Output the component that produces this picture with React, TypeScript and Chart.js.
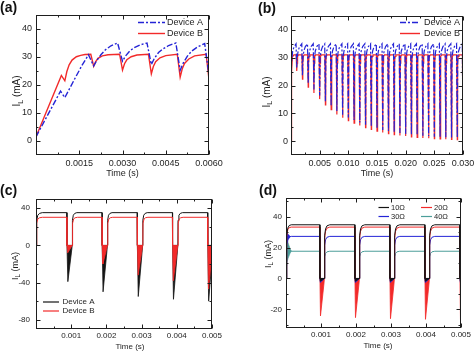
import React, { useEffect, useRef } from "react";
import { Chart, registerables } from "chart.js";

Chart.register(...registerables);

const W = 474;
const H = 352;
const FONT = "'Liberation Sans', Arial, Helvetica, sans-serif";
const INK = "#1e1e1e";
const BLUE = "#2424d6";
const RED = "#f22a2a";
const BLACK = "#141414";
const TEAL = "#4c9e9a";

// ---------------- Panel (a) : time in ms ----------------
const aTimeA = [0, 0.85, 1.0, 1.2, 1.4, 1.6, 1.82, 2.0, 2.1, 2.25, 2.4, 2.6, 2.83, 3.0, 3.1, 3.25, 3.4, 3.6, 3.85, 4.0, 4.1, 4.25, 4.4, 4.6, 4.85, 5.0, 5.1, 5.25, 5.4, 5.6, 5.85, 6.0];
const aDevA = [1.5, 17.8, 15.5, 19.4, 23.3, 27.1, 30.8, 26.8, 28.6, 30.8, 32.5, 34.0, 35.0, 28.5, 30.3, 32.1, 33.3, 34.3, 35.0, 27.3, 29.4, 31.6, 32.9, 34.1, 35.0, 25.3, 27.7, 30.3, 32.1, 33.6, 34.8, 23.5];
const aTimeB = [0, 0.88, 1.0, 1.07, 1.15, 1.25, 1.4, 1.55, 1.7, 1.9, 2.0, 2.07, 2.15, 2.3, 2.5, 2.9, 3.0, 3.07, 3.15, 3.3, 3.5, 3.9, 4.0, 4.07, 4.15, 4.3, 4.5, 4.9, 5.0, 5.07, 5.15, 5.3, 5.5, 5.9, 6.0];
const aDevB = [1.5, 23.4, 21.5, 24.8, 27.2, 28.9, 30.1, 30.6, 30.9, 31.0, 26.7, 28.4, 29.5, 30.4, 30.8, 31.0, 25.3, 27.6, 29.0, 30.1, 30.7, 31.0, 24.0, 26.6, 28.3, 29.7, 30.5, 31.0, 22.8, 25.7, 27.7, 29.3, 30.4, 31.0, 22.0];
const aXTicks = [0.75, 1.5, 2.25, 3, 3.75, 4.5, 5.25, 6];
const aXLabels = ["", "0.0015", "", "0.0030", "", "0.0045", "", "0.0060"];
const abYTicks = [0, 5, 10, 15, 20, 25, 30, 35, 40];
const abYLabels = ["0", "", "10", "", "20", "", "30", "", "40"];

// ---------------- Panel (b) : time in ms ----------------
const bPulses = [1, 2, 3, 4, 5, 6, 7, 8, 9, 10, 11, 12, 13, 14, 15, 16, 17, 18, 19, 20, 21, 22, 23, 24, 25, 26, 27, 28, 29, 30];
const bMinA = [26.5, 23.6, 20.7, 18.6, 16.4, 14.3, 12.5, 10.8, 9.5, 8.5, 7.6, 6.7, 5.9, 5.2, 4.6, 4.0, 3.6, 3.2, 2.9, 2.6, 2.3, 2.1, 1.9, 1.8, 1.6, 1.5, 1.4, 1.3, 1.2, 1.2];
const bMinB = [25.2, 22.3, 19.4, 17.3, 15.1, 13.0, 11.3, 9.6, 8.4, 7.4, 6.5, 5.6, 4.8, 4.2, 3.6, 3.1, 2.7, 2.3, 2.0, 1.8, 1.5, 1.3, 1.1, 1.0, 0.9, 0.8, 0.7, 0.6, 0.5, 0.5];
const bStartTimeA = [0, 0.08, 0.3, 0.55, 0.88];
const bStartA = [0, 28, 32.5, 34, 35];
const bStartTimeB = [0, 0.1, 0.25, 0.5, 0.9];
const bStartB = [0, 25, 30.3, 31, 31];
const bRecoverOffA = [0.08, 0.25, 0.5, 0.88];
const bRecoverA = [30, 32.5, 34, 35];
const bRecoverOffB = [0.06, 0.15, 0.3, 0.9];
const bRecoverB = [28, 30.5, 31, 31];
const bXTicks = [2.5, 5, 7.5, 10, 12.5, 15, 17.5, 20, 22.5, 25, 27.5, 30];
const bXLabels = ["", "0.005", "", "0.010", "", "0.015", "", "0.020", "", "0.025", "", "0.030"];

// ---------------- Panel (c) : time in ms ----------------
const cDips = [1, 2, 3, 4, 5];
const cStartTime = [0, 0.02, 0.05, 0.1, 0.18];
const cStartA = [0, 27, 32.5, 34.5, 35.3];
const cStartB = [0, 24, 28.5, 29.8, 30.3];
const cLineOffA = [-0.125, -0.12, 0.03, 0.035, 0.06, 0.1, 0.16];
const cLineA = [35.3, 0, 0, 27, 32.5, 34.5, 35.3];
const cLineOffB = [-0.125, -0.12, 0.035, 0.04, 0.07, 0.11, 0.18];
const cLineB = [30.3, 0, 0, 24, 28.5, 29.8, 30.3];
const cWedgeOffA = [-0.12, -0.095, 0.03];
const cWedgeOffB = [-0.12, -0.1, 0.03];
const cMinA = [-39, -50, -55, -58, -60];
const cMinB = [-8, -20, -32, -38, -47];
const cdXTicks = [0.5, 1, 1.5, 2, 2.5, 3, 3.5, 4, 4.5, 5];
const cdXLabels = ["", "0.001", "", "0.002", "", "0.003", "", "0.004", "", "0.005"];
const cYTicks = [-80, -60, -40, -20, 0, 20, 40];
const cYLabels = ["-80", "", "-40", "", "0", "", "40"];

// ---------------- Panel (d) : time in ms ----------------
const dDips = [1, 2, 3, 4, 5];
const dStartTime = [0, 0.02, 0.05, 0.09, 0.15];
const dStart10 = [0, 28, 32.5, 34.2, 34.7];
const dStart20 = [0, 27, 31.5, 32.8, 33.2];
const dStart30 = [0, 22, 25.5, 26.8, 27.2];
const dStart40 = [0, 14, 16.5, 17.3, 17.6];
const dLineOff = [-0.035, -0.03, 0.1, 0.105, 0.13, 0.17, 0.25];
const dLine10 = [34.7, 0, 0, 28, 32, 34, 34.7];
const dLine20 = [33.2, 0, 0, 26.5, 30.5, 32.5, 33.2];
const dLine30 = [27.2, 0, 0, 21.5, 25, 26.6, 27.2];
const dLine40 = [17.6, 0, 0, 14, 16.2, 17.2, 17.6];
const dWedgeOff20 = [-0.03, -0.015, 0.1];
const dMin20 = [-24.2, -25.3, -26, -26.4, -26.8];
const dBandOff = [-0.03, -0.02, 0.1];
const dMin10 = [-1.8, -1.8, -1.8, -1.8, -1.8];
const dMin30 = [-2.6, -2.6, -2.6, -2.6, -2.6];
const dOscTime30 = [0, 0.02, 0.06, 0.12];
const dOscHi30 = [31, 30, 28.5, 27.2];
const dOscLo30 = [21, 22, 25, 27.2];
const dOscTime40 = [0, 0.02, 0.06, 0.12, 0.16];
const dOscHi40 = [30, 28, 23, 19, 17.6];
const dOscLo40 = [8, 10, 13, 16.5, 17.6];
const dYTicks = [-30, -20, -10, 0, 10, 20, 30, 40, 50];
const dYLabels = ["", "-20", "", "0", "", "20", "", "40", ""];

// ---------------- helpers ----------------
const pts = (xs: number[], ys: number[]) => xs.map((x, i) => ({ x, y: ys[i] }));

function pulseTrain(st: number[], sv: number[], pulses: number[], mins: number[], off: number[], vals: number[]) {
  const p = pts(st, sv);
  pulses.forEach((k, i) => {
    p.push({ x: k, y: mins[i] });
    off.forEach((o, j) => p.push({ x: k + o, y: vals[j] }));
  });
  return p;
}

function dipTrain(st: number[], sv: number[], dips: number[], off: number[], vals: number[]) {
  const p = pts(st, sv);
  dips.forEach((k) => off.forEach((o, j) => p.push({ x: k + o, y: vals[j] })));
  return p;
}

function wedgeSets(dips: number[], off: number[], mins: number[], color: string) {
  return dips.map((k, i) => ({
    data: [
      { x: k + off[0], y: 0 },
      { x: k + off[1], y: mins[i] },
      { x: k + off[2], y: 0 },
    ],
    borderColor: color,
    backgroundColor: color,
    borderWidth: 0.8,
    fill: "origin",
  }));
}

type LegendItem = { text: string; color: string; dash?: number[]; x1: number; x2: number; tx: number; y: number; lw: number };
type Deco = {
  tag: string; tagX: number; tagY: number;
  yTitle: number[]; xTitle: number[];
  legend: LegendItem[]; legendSize: number;
};

function decoPlugin(d: Deco) {
  return {
    id: "deco",
    afterDraw(chart: any) {
      const ctx = chart.ctx as CanvasRenderingContext2D;
      const { left, right, top, bottom } = chart.chartArea;
      const xs = chart.scales.x;
      const ys = chart.scales.y;
      const L = Math.round(left) + 0.5;
      const R = Math.round(right) - 0.5;
      const T = Math.round(top) + 0.5;
      const B = Math.round(bottom) - 0.5;
      ctx.save();
      ctx.strokeStyle = INK;
      ctx.lineWidth = 1;
      ctx.setLineDash([]);
      ctx.strokeRect(L, T, R - L, B - T);
      ctx.beginPath();
      xs.ticks.forEach((t: any) => {
        const px = Math.round(xs.getPixelForValue(t.value)) + 0.5;
        const len = t.label ? 4 : 2;
        ctx.moveTo(px, B); ctx.lineTo(px, B - len);
        ctx.moveTo(px, T); ctx.lineTo(px, T + len);
      });
      ys.ticks.forEach((t: any) => {
        const py = Math.round(ys.getPixelForValue(t.value)) + 0.5;
        const len = t.label ? 4 : 2;
        ctx.moveTo(L, py); ctx.lineTo(L + len, py);
        ctx.moveTo(R, py); ctx.lineTo(R - len, py);
      });
      ctx.stroke();

      // legend
      ctx.textBaseline = "middle";
      ctx.textAlign = "left";
      d.legend.forEach((it) => {
        ctx.beginPath();
        ctx.strokeStyle = it.color;
        ctx.lineWidth = it.lw;
        ctx.setLineDash(it.dash || []);
        ctx.moveTo(it.x1, it.y); ctx.lineTo(it.x2, it.y);
        ctx.stroke();
        ctx.setLineDash([]);
        ctx.fillStyle = INK;
        ctx.font = `${d.legendSize}px ${FONT}`;
        ctx.fillText(it.text, it.tx, it.y);
      });

      // panel tag
      ctx.fillStyle = "#111";
      ctx.font = `bold 14px ${FONT}`;
      ctx.fillText(d.tag, d.tagX, d.tagY);

      // x title
      ctx.fillStyle = INK;
      ctx.textAlign = "center";
      ctx.font = `${d.xTitle[2]}px ${FONT}`;
      ctx.fillText("Time (s)", d.xTitle[0], d.xTitle[1]);

      // y title with subscript
      const sz = d.yTitle[2];
      ctx.save();
      ctx.translate(d.yTitle[0], d.yTitle[1]);
      ctx.rotate(-Math.PI / 2);
      ctx.textAlign = "left";
      const big = `${sz}px ${FONT}`;
      const small = `${(sz * 0.7).toFixed(1)}px ${FONT}`;
      ctx.font = big;
      const wI = ctx.measureText("I").width;
      const wR = ctx.measureText(" (mA)").width;
      ctx.font = small;
      const wL = ctx.measureText("L").width;
      let cx = -(wI + wL + wR) / 2;
      ctx.font = big;
      ctx.fillText("I", cx, 0);
      cx += wI;
      ctx.font = small;
      ctx.fillText("L", cx, sz * 0.32);
      cx += wL;
      ctx.font = big;
      ctx.fillText(" (mA)", cx, 0);
      ctx.restore();
      ctx.restore();
    },
  };
}

type PanelSpec = {
  datasets: any[];
  xMin: number; xMax: number; yMin: number; yMax: number;
  xTicks: number[]; xLabels: string[]; yTicks: number[]; yLabels: string[];
  area: number[];
  tickSize: number; xPad: number; yPad: number;
  deco: Deco;
};

function makeConfig(p: PanelSpec): any {
  const [l, t, r, b] = p.area;
  const xAxisH = 20;
  const tickFont = { family: FONT, size: p.tickSize };
  return {
    type: "line",
    data: {
      datasets: p.datasets.map((d, i) => ({
        pointRadius: 0,
        pointHoverRadius: 0,
        tension: 0,
        fill: false,
        order: -i,
        ...d,
      })),
    },
    options: {
      responsive: false,
      animation: false,
      devicePixelRatio: 1,
      events: [],
      layout: { padding: { left: 0, top: t, right: W - r, bottom: H - b - xAxisH } },
      plugins: { legend: { display: false }, tooltip: { enabled: false } },
      scales: {
        x: {
          type: "linear",
          min: p.xMin,
          max: p.xMax,
          grid: { display: false, drawTicks: false },
          border: { display: false },
          afterBuildTicks: (s: any) => { s.ticks = p.xTicks.map((v) => ({ value: v })); },
          afterFit: (s: any) => { s.height = xAxisH; s.paddingLeft = 0; s.paddingRight = 0; },
          ticks: {
            autoSkip: false, maxRotation: 0, minRotation: 0, padding: p.xPad,
            color: INK, font: tickFont,
            callback: (_v: any, i: number) => p.xLabels[i],
          },
        },
        y: {
          type: "linear",
          min: p.yMin,
          max: p.yMax,
          grid: { display: false, drawTicks: false },
          border: { display: false },
          afterBuildTicks: (s: any) => { s.ticks = p.yTicks.map((v) => ({ value: v })); },
          afterFit: (s: any) => { s.width = l; s.paddingTop = 0; s.paddingBottom = 0; },
          ticks: {
            autoSkip: false, padding: p.yPad, color: INK, font: tickFont,
            callback: (_v: any, i: number) => p.yLabels[i],
          },
        },
      },
    },
    plugins: [decoPlugin(p.deco)],
  };
}

// ---------------- panel configs ----------------
const DASHDOT = [6, 2, 2, 2];

function configA() {
  return makeConfig({
    datasets: [
      { data: pts(aTimeB, aDevB), borderColor: RED, borderWidth: 1.4 },
      { data: pts(aTimeA, aDevA), borderColor: BLUE, borderWidth: 1.4, borderDash: DASHDOT },
    ],
    xMin: 0, xMax: 6, yMin: -5, yMax: 45,
    xTicks: aXTicks, xLabels: aXLabels, yTicks: abYTicks, yLabels: abYLabels,
    area: [36, 15, 209, 155], tickSize: 9, xPad: 3, yPad: 4,
    deco: {
      tag: "(a)", tagX: 0, tagY: 8,
      yTitle: [17.5, 91, 10], xTitle: [122.5, 174, 9],
      legendSize: 9,
      legend: [
        { text: "Device A", color: BLUE, dash: DASHDOT, x1: 138, x2: 165, tx: 167, y: 22.5, lw: 1.4 },
        { text: "Device B", color: RED, x1: 138, x2: 165, tx: 167, y: 33.5, lw: 1.4 },
      ],
    },
  });
}

function configB() {
  return makeConfig({
    datasets: [
      { data: pulseTrain(bStartTimeB, bStartB, bPulses, bMinB, bRecoverOffB, bRecoverB), borderColor: RED, borderWidth: 1.2 },
      { data: pulseTrain(bStartTimeA, bStartA, bPulses, bMinA, bRecoverOffA, bRecoverA), borderColor: BLUE, borderWidth: 1.2, borderDash: DASHDOT },
    ],
    xMin: 0, xMax: 30, yMin: -5, yMax: 45,
    xTicks: bXTicks, xLabels: bXLabels, yTicks: abYTicks, yLabels: abYLabels,
    area: [291, 16, 463, 155], tickSize: 9, xPad: 3, yPad: 3,
    deco: {
      tag: "(b)", tagX: 258, tagY: 9,
      yTitle: [267, 92, 10], xTitle: [377, 174, 9],
      legendSize: 9,
      legend: [
        { text: "Device A", color: BLUE, dash: DASHDOT, x1: 400, x2: 420, tx: 424, y: 22.5, lw: 1.4 },
        { text: "Device B", color: RED, x1: 400, x2: 420, tx: 424, y: 33.5, lw: 1.4 },
      ],
    },
  });
}

function configC() {
  return makeConfig({
    datasets: [
      { data: dipTrain(cStartTime, cStartA, cDips, cLineOffA, cLineA), borderColor: BLACK, borderWidth: 1 },
      ...wedgeSets(cDips, cWedgeOffA, cMinA, BLACK),
      { data: dipTrain(cStartTime, cStartB, cDips, cLineOffB, cLineB), borderColor: RED, borderWidth: 1 },
      ...wedgeSets(cDips, cWedgeOffB, cMinB, RED),
    ],
    xMin: 0, xMax: 5, yMin: -90, yMax: 50,
    xTicks: cdXTicks, xLabels: cdXLabels, yTicks: cYTicks, yLabels: cYLabels,
    area: [36, 199, 212, 329], tickSize: 8, xPad: 2, yPad: 6,
    deco: {
      tag: "(c)", tagX: 0, tagY: 191,
      yTitle: [15.5, 266, 9], xTitle: [130, 347, 8],
      legendSize: 8,
      legend: [
        { text: "Device A", color: BLACK, x1: 43, x2: 59, tx: 62.5, y: 302, lw: 1.2 },
        { text: "Device B", color: RED, x1: 43, x2: 59, tx: 62.5, y: 311, lw: 1.2 },
      ],
    },
  });
}

function configD() {
  return makeConfig({
    datasets: [
      { data: pts(dOscTime40, dOscHi40), borderColor: TEAL, backgroundColor: TEAL, borderWidth: 0.6, fill: "+1" },
      { data: pts(dOscTime40, dOscLo40), borderColor: TEAL, borderWidth: 0.6 },
      { data: dipTrain(dStartTime, dStart40, dDips, dLineOff, dLine40), borderColor: TEAL, borderWidth: 1 },
      { data: pts(dOscTime30, dOscHi30), borderColor: BLUE, backgroundColor: BLUE, borderWidth: 0.6, fill: "+1" },
      { data: pts(dOscTime30, dOscLo30), borderColor: BLUE, borderWidth: 0.6 },
      { data: dipTrain(dStartTime, dStart30, dDips, dLineOff, dLine30), borderColor: BLUE, borderWidth: 1 },
      ...wedgeSets(dDips, dWedgeOff20, dMin20, RED),
      { data: dipTrain(dStartTime, dStart20, dDips, dLineOff, dLine20), borderColor: RED, borderWidth: 1 },
      ...wedgeSets(dDips, dBandOff, dMin30, BLUE),
      ...wedgeSets(dDips, dBandOff, dMin10, BLACK),
      { data: dipTrain(dStartTime, dStart10, dDips, dLineOff, dLine10), borderColor: BLACK, borderWidth: 1 },
    ],
    xMin: 0, xMax: 5, yMin: -32, yMax: 52,
    xTicks: cdXTicks, xLabels: cdXLabels, yTicks: dYTicks, yLabels: dYLabels,
    area: [286, 198, 461, 328], tickSize: 8, xPad: 2, yPad: 4,
    deco: {
      tag: "(d)", tagX: 259, tagY: 191,
      yTitle: [268.5, 254, 9], xTitle: [378, 346, 8],
      legendSize: 7.5,
      legend: [
        { text: "10Ω", color: BLACK, x1: 378.5, x2: 389, tx: 391, y: 207.5, lw: 1.2 },
        { text: "20Ω", color: RED, x1: 421, x2: 432, tx: 434, y: 207.5, lw: 1.2 },
        { text: "30Ω", color: BLUE, x1: 378.5, x2: 389, tx: 391, y: 216.5, lw: 1.2 },
        { text: "40Ω", color: TEAL, x1: 421, x2: 432, tx: 434, y: 216.5, lw: 1.2 },
      ],
    },
  });
}

function Panel({ make }: { make: () => any }) {
  const ref = useRef<HTMLCanvasElement | null>(null);
  useEffect(() => {
    const chart = new Chart(ref.current as HTMLCanvasElement, make());
    return () => chart.destroy();
  }, [make]);
  return (
    <canvas
      ref={ref}
      width={W}
      height={H}
      style={{ position: "absolute", left: 0, top: 0, width: W, height: H }}
    />
  );
}

export default function App() {
  return (
    <div style={{ position: "fixed", left: 0, top: 0, width: W, height: H, background: "#ffffff", overflow: "hidden" }}>
      <Panel make={configA} />
      <Panel make={configB} />
      <Panel make={configC} />
      <Panel make={configD} />
    </div>
  );
}
